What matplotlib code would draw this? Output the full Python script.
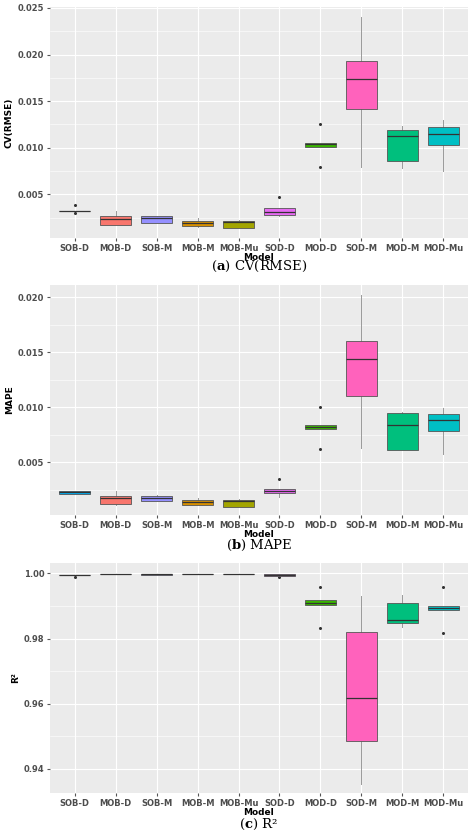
import matplotlib
matplotlib.use("Agg")
import matplotlib.pyplot as plt
from matplotlib.ticker import MultipleLocator

plt.rcParams["mathtext.fontset"] = "dejavuserif"

models = ["SOB-D", "MOB-D", "SOB-M", "MOB-M", "MOB-Mu", "SOD-D", "MOD-D", "SOD-M", "MOD-M", "MOD-Mu"]
colors = ["#00B0F6", "#F8766D", "#9590FF", "#D89000", "#A3A500", "#E76BF3", "#39B600", "#FF62BC", "#00BF7D", "#00BFC4"]

# CV(RMSE)
cv_q1 = [0.00320, 0.00167, 0.00191, 0.00156, 0.00138, 0.00277, 0.0101, 0.0142, 0.0086, 0.0103]
cv_med = [0.00322, 0.00238, 0.00245, 0.00188, 0.00199, 0.00316, 0.0104, 0.0174, 0.0113, 0.0115]
cv_q3 = [0.00324, 0.00273, 0.00273, 0.00216, 0.00216, 0.00358, 0.0105, 0.0193, 0.0119, 0.0122]
cv_lo = [0.00320, 0.00167, 0.00191, 0.00145, 0.00138, 0.00270, 0.0101, 0.0079, 0.0078, 0.0075]
cv_hi = [0.00324, 0.00326, 0.00273, 0.00245, 0.00227, 0.00358, 0.0105, 0.0240, 0.0123, 0.0130]
cv_fl = [[0.0039, 0.0030], [], [], [], [], [0.00468], [0.0126, 0.0079], [], [], []]

# MAPE
mape_q1 = [0.00214, 0.00120, 0.00145, 0.00112, 0.00096, 0.00217, 0.0080, 0.0110, 0.0061, 0.0078]
mape_med = [0.00228, 0.00172, 0.00172, 0.00136, 0.00150, 0.00241, 0.0082, 0.0144, 0.0084, 0.0088]
mape_q3 = [0.00241, 0.00196, 0.00190, 0.00160, 0.00160, 0.00256, 0.0084, 0.0160, 0.0095, 0.0094]
mape_lo = [0.00214, 0.00115, 0.00145, 0.00112, 0.00096, 0.00184, 0.0080, 0.0063, 0.0061, 0.0057]
mape_hi = [0.00241, 0.00235, 0.00200, 0.00172, 0.00165, 0.00256, 0.0084, 0.0202, 0.0096, 0.0099]
mape_fl = [[], [], [], [], [], [0.0035], [0.0100, 0.0062], [], [], []]

# R2
r2_q1 = [0.99945, 0.99970, 0.99965, 0.99985, 0.99985, 0.9992, 0.9903, 0.9487, 0.9849, 0.9889]
r2_med = [0.99950, 0.99975, 0.99970, 0.99990, 0.99990, 0.9996, 0.9909, 0.9618, 0.9857, 0.9894]
r2_q3 = [0.99955, 0.99980, 0.99975, 0.99995, 0.99995, 0.9999, 0.9918, 0.9820, 0.9910, 0.9900]
r2_lo = [0.99945, 0.99970, 0.99965, 0.99985, 0.99985, 0.9992, 0.9903, 0.9354, 0.9836, 0.9889]
r2_hi = [0.99955, 0.99980, 0.99975, 0.99995, 0.99995, 0.9999, 0.9918, 0.9930, 0.9935, 0.9900]
r2_fl = [[0.9990], [], [], [], [], [0.9988], [0.9958, 0.9832], [], [], [0.9958, 0.9818]]

panels = [
    ("CV(RMSE)", cv_q1, cv_med, cv_q3, cv_lo, cv_hi, cv_fl, (0.00032, 0.0251), 0.005, "%.3f", "a", "CV(RMSE)"),
    ("MAPE", mape_q1, mape_med, mape_q3, mape_lo, mape_hi, mape_fl, (0.0002, 0.0211), 0.005, "%.3f", "b", "MAPE"),
    ("R²", r2_q1, r2_med, r2_q3, r2_lo, r2_hi, r2_fl, (0.9326, 1.0032), 0.02, "%.2f", "c", "R²"),
]

W, H = 474, 838
fig = plt.figure(figsize=(W / 100, H / 100), dpi=100)
fig.patch.set_facecolor("white")

axes_px = [(7, 238, 266), (285, 515, 545), (563, 793, 824)]
x0, x1 = 50, 468

for (ylab, q1, med, q3, lo, hi, fl, ylim, step, fmt, letter, cap), (top, bot, capy) in zip(panels, axes_px):
    ax = fig.add_axes([x0 / W, 1 - bot / H, (x1 - x0) / W, (bot - top) / H])
    ax.set_facecolor("#EBEBEB")
    stats = []
    for i, m in enumerate(models):
        stats.append(dict(label=m, q1=q1[i], med=med[i], q3=q3[i], whislo=lo[i], whishi=hi[i], fliers=fl[i]))
    bp = ax.bxp(stats, positions=range(1, 11), widths=0.75, patch_artist=True, showcaps=False,
                boxprops=dict(edgecolor="#555555", linewidth=0.6),
                medianprops=dict(color="#333333", linewidth=0.9),
                whiskerprops=dict(color="#999999", linewidth=0.7),
                flierprops=dict(marker="o", markersize=1.2, markerfacecolor="#333333", markeredgecolor="#333333"))
    for patch, c in zip(bp["boxes"], colors):
        patch.set_facecolor(c)
        patch.set_zorder(3)
    for mline in bp["medians"]:
        mline.set_zorder(4)
    ax.set_xlim(0.4, 10.6)
    ax.set_ylim(*ylim)
    ax.yaxis.set_major_locator(MultipleLocator(step))
    ax.yaxis.set_minor_locator(MultipleLocator(step / 2))
    ax.yaxis.set_major_formatter(matplotlib.ticker.FormatStrFormatter(fmt))
    ax.set_xticks(range(1, 11))
    ax.grid(True, which="major", color="white", linewidth=0.8)
    ax.grid(True, which="minor", axis="y", color="white", linewidth=0.4)
    ax.set_axisbelow(True)
    for s in ax.spines.values():
        s.set_visible(False)
    ax.tick_params(axis="both", which="major", length=2, color="#555555", labelsize=6, labelcolor="#4D4D4D", pad=2)
    ax.tick_params(axis="both", which="minor", length=0)
    for t in ax.get_xticklabels() + ax.get_yticklabels():
        t.set_fontweight("bold")
    ax.set_xlabel("Model", fontsize=6.5, fontweight="bold", labelpad=0)
    ax.set_ylabel(ylab, fontsize=6.5, fontweight="bold", labelpad=3)
    fig.text(0.5 * (x0 + x1) / W, 1 - capy / H,
             r"(" + r"$\mathbf{" + letter + r"}$" + ") " + cap,
             ha="center", va="center", fontsize=9.5, family="DejaVu Serif")

fig.savefig("out.png", dpi=100)
